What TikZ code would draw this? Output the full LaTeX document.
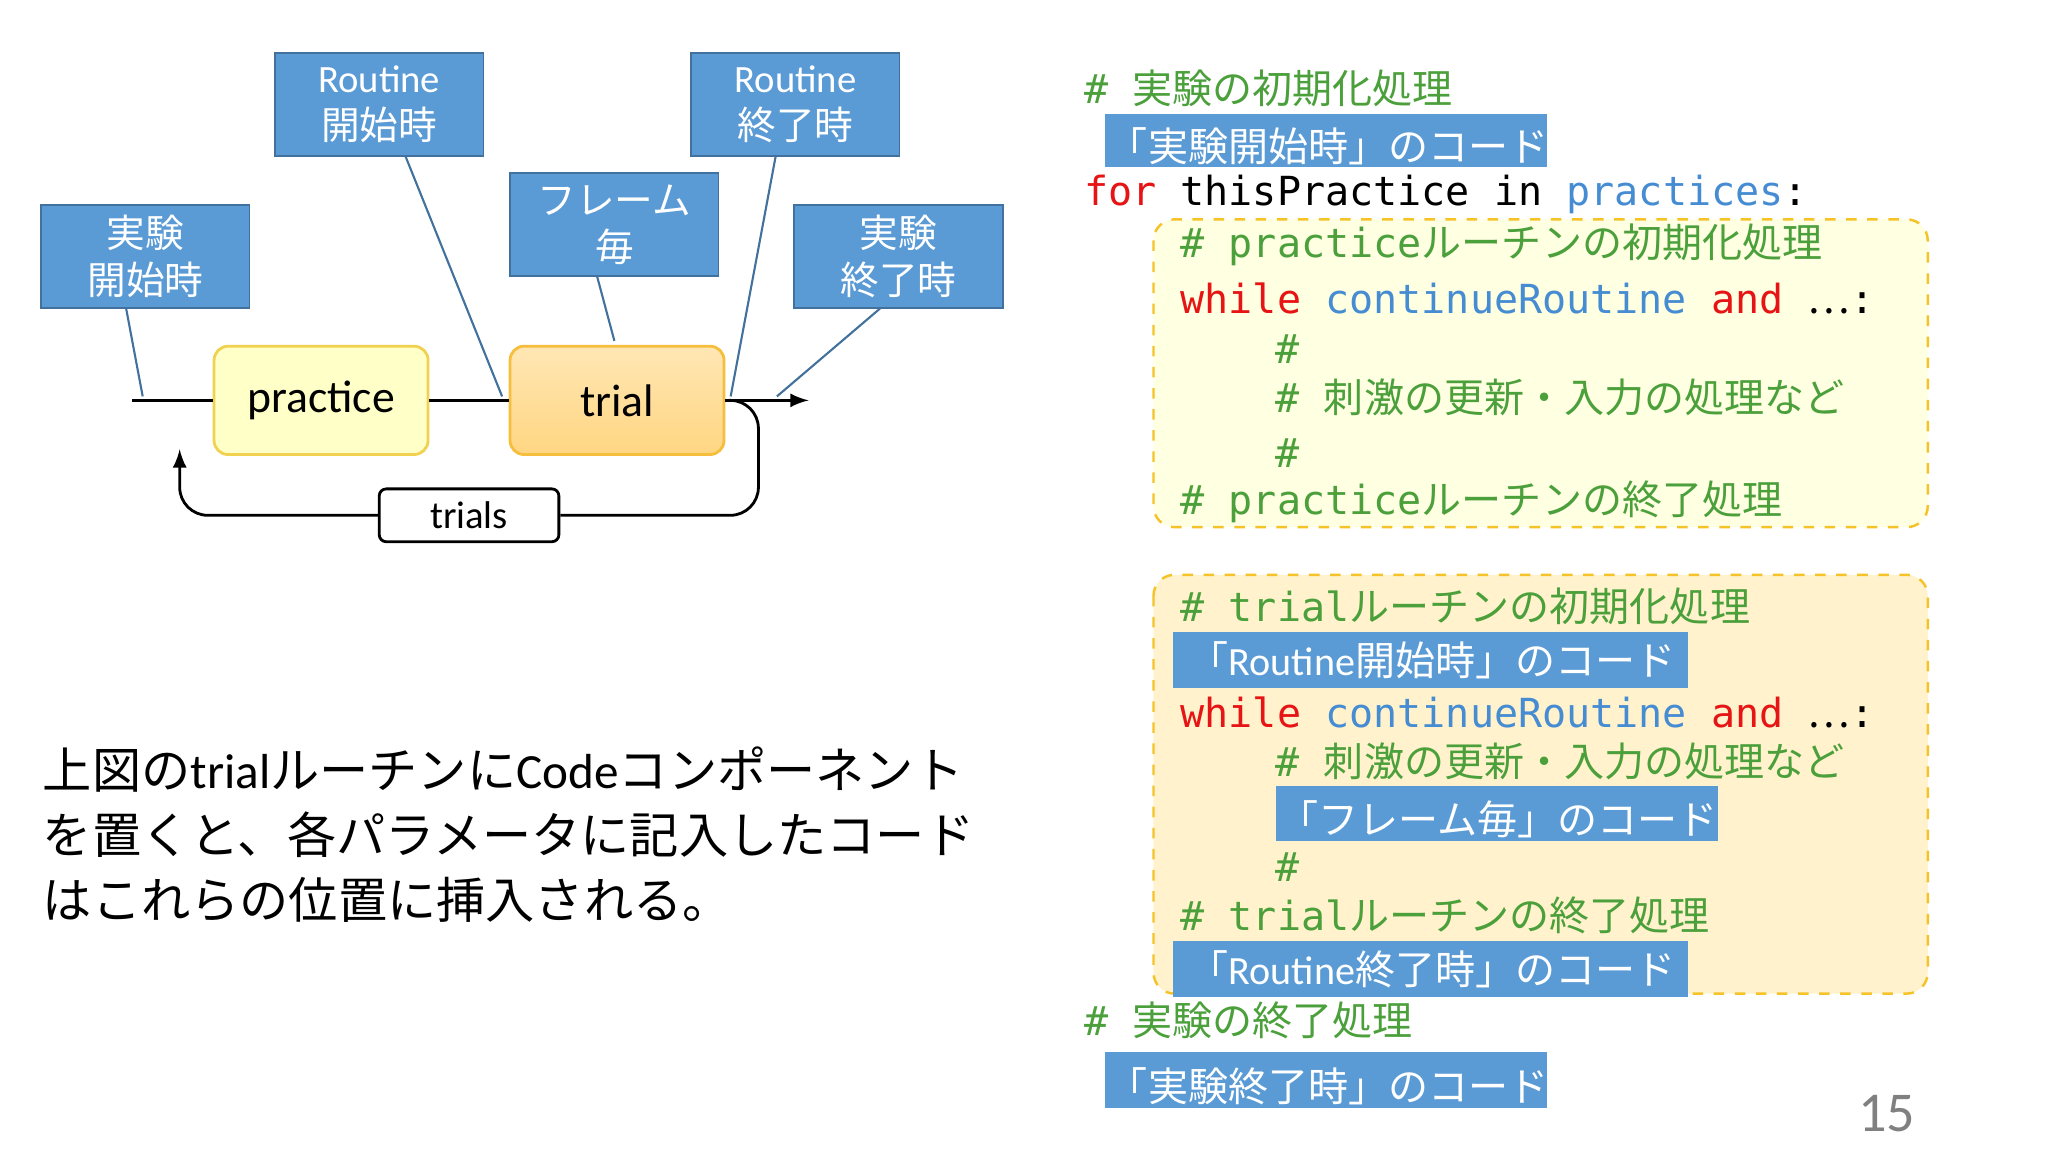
\documentclass[tikz,border=0pt]{standalone}
\usepackage{fontspec}
\setmainfont{Carlito}
\newfontfamily\jp{Noto Sans CJK JP}
\newfontfamily\mono{DejaVu Sans Mono}
\usetikzlibrary{arrows}
\definecolor{boxblue}{RGB}{91,155,213}
\definecolor{boxedge}{RGB}{65,113,156}
\definecolor{cmtgreen}{RGB}{75,160,60}
\definecolor{kwred}{RGB}{230,20,20}
\definecolor{kwblue}{RGB}{70,140,210}
\definecolor{pracfill}{RGB}{255,255,200}
\definecolor{pracedge}{RGB}{240,210,80}
\definecolor{trialfill}{RGB}{255,214,130}
\definecolor{trialedge}{RGB}{245,190,60}
\definecolor{yelbox}{RGB}{255,255,225}
\definecolor{orgbox}{RGB}{255,242,204}
\definecolor{dashedge}{RGB}{245,195,40}
\newcommand{\cm}[1]{\textcolor{cmtgreen}{#1}}
\begin{document}
\begin{tikzpicture}[x=0.013213cm, y=-0.013213cm,
  lbl/.style={draw=boxedge, fill=boxblue, text=white, minimum width=158*0.13213mm, minimum height=78*0.13213mm, align=center, font=\fontsize{11}{13.5}\selectfont, inner sep=0pt},
  rtn/.style={draw, rounded corners=4pt, line width=0.8pt, minimum width=162*0.13213mm, minimum height=82*0.13213mm, font=\fontsize{13}{15}\selectfont},
  ptr/.style={draw=boxedge, line width=0.6pt},
  code/.style={anchor=west, inner sep=0pt, font=\mono\fontsize{11.4}{13}\selectfont},
  cbox/.style={fill=boxblue, text=white, anchor=north west, inner sep=0pt, font=\jp\fontsize{11.4}{13}\selectfont},
  dbox/.style={draw=dashedge, dashed, line width=0.7pt, rounded corners=6pt},
]
\useasboundingbox (0,0) rectangle (1550,872);

% flow diagram
\node [lbl] (expstart) at (110,194) {{\jp 実験}\\{\jp 開始時}};
\node [lbl] (rtnstart) at (287,79) {Routine\\{\jp 開始時}};
\node [lbl] (frame) at (465,170) {{\jp フレーム}\\{\jp 毎}};
\node [lbl] (rtnend) at (602,79) {Routine\\{\jp 終了時}};
\node [lbl] (expend) at (680,194) {{\jp 実験}\\{\jp 終了時}};

\node [rtn, draw=pracedge, fill=pracfill] (practice) at (243,303) {practice};
\node [rtn, draw=trialedge, top color=trialfill!60, bottom color=trialfill] (trial) at (467,303) {trial};

\coordinate (in) at (100,303);
\coordinate (out) at (612,303);
\draw [line width=0.8pt] (in) -- (practice.west);
\draw [line width=0.8pt] (practice.east) -- (trial.west);
\draw [line width=0.8pt, -latex] (trial.east) -- (out);

\node [draw, line width=0.8pt, rounded corners=2pt, fill=white, minimum width=136*0.13213mm, minimum height=40*0.13213mm, font=\fontsize{11}{13}\selectfont] (trials) at (355,390) {trials};
\coordinate (loopa) at (552,303);
\coordinate (loopb) at (136,340);
\draw [line width=0.8pt, rounded corners=8pt] (loopa) -| (574,390) -- (trials.east);
\draw [line width=0.8pt, rounded corners=8pt, -latex] (trials.west) -| (loopb);

\coordinate (p1) at (108,300);
\coordinate (p2) at (380,300);
\coordinate (p3) at (465,258);
\coordinate (p4) at (553,300);
\coordinate (p5) at (588,300);
\draw [ptr] (expstart.south west) ++(65,0) -- (p1);
\draw [ptr] (rtnstart.south) ++(20,0) -- (p2);
\draw [ptr] (frame.south) ++(-13,0) -- (p3);
\draw [ptr] (rtnend.south) ++(-15,0) -- (p4);
\draw [ptr] (expend.south) ++(-14,0) -- (p5);

\node [anchor=west, align=left, inner sep=0pt, font=\fontsize{14}{18.5}\selectfont] (desc) at (32,632)
  {{\jp 上図の}trial{\jp ルーチンに}Code{\jp コンポーネント}\\{\jp を置くと、各パラメータに記入したコード}\\{\jp はこれらの位置に挿入される。}};

% code listing
\draw [dbox, fill=yelbox] (873,166) rectangle (1459,399);
\draw [dbox, fill=orgbox] (873,435) rectangle (1459,752);

\node [code] (c1) at (820,67) {\cm{\# {\jp 実験の初期化処理}}};
\node [cbox, minimum width=334*0.13213mm, minimum height=40*0.13213mm, text width=330*0.13213mm] (b1) at (836,86) {{\ \jp 「実験開始時」のコード}};
\node [code] (c2) at (820,147) {\textcolor{kwred}{for} thisPractice in \textcolor{kwblue}{practices}:};
\node [code] (c3) at (893,185) {\cm{\# practice{\jp ルーチンの初期化処理}}};
\node [code] (c4) at (893,226) {\textcolor{kwred}{while} \textcolor{kwblue}{continueRoutine} \textcolor{kwred}{and} {\jp …}:};
\node [code] (c5) at (965,264) {\cm{\#}};
\node [code] (c6) at (965,301) {\cm{\# {\jp 刺激の更新・入力の処理など}}};
\node [code] (c7) at (965,343) {\cm{\#}};
\node [code] (c8) at (893,380) {\cm{\# practice{\jp ルーチンの終了処理}}};

\node [code] (c9) at (893,459) {\cm{\# trial{\jp ルーチンの初期化処理}}};
\node [cbox, minimum width=390*0.13213mm, minimum height=42*0.13213mm, text width=386*0.13213mm] (b2) at (887,478) {\ 「{\fontspec{Carlito}Routine}開始時」のコード};
\node [code] (c10) at (893,539) {\textcolor{kwred}{while} \textcolor{kwblue}{continueRoutine} \textcolor{kwred}{and} {\jp …}:};
\node [code] (c11) at (965,576) {\cm{\# {\jp 刺激の更新・入力の処理など}}};
\node [cbox, minimum width=335*0.13213mm, minimum height=42*0.13213mm, text width=331*0.13213mm] (b3) at (965,594) {\ 「フレーム毎」のコード};
\node [code] (c12) at (965,656) {\cm{\#}};
\node [code] (c13) at (893,693) {\cm{\# trial{\jp ルーチンの終了処理}}};
\node [cbox, minimum width=390*0.13213mm, minimum height=42*0.13213mm, text width=386*0.13213mm] (b4) at (887,712) {\ 「{\fontspec{Carlito}Routine}終了時」のコード};
\node [code] (c14) at (820,772) {\cm{\# {\jp 実験の終了処理}}};
\node [cbox, minimum width=334*0.13213mm, minimum height=42*0.13213mm, text width=330*0.13213mm] (b5) at (836,796) {\ 「実験終了時」のコード};

\node [text=gray, font=\fontsize{16}{18}\selectfont] (page) at (1428,843) {15};
\end{tikzpicture}
\end{document}
